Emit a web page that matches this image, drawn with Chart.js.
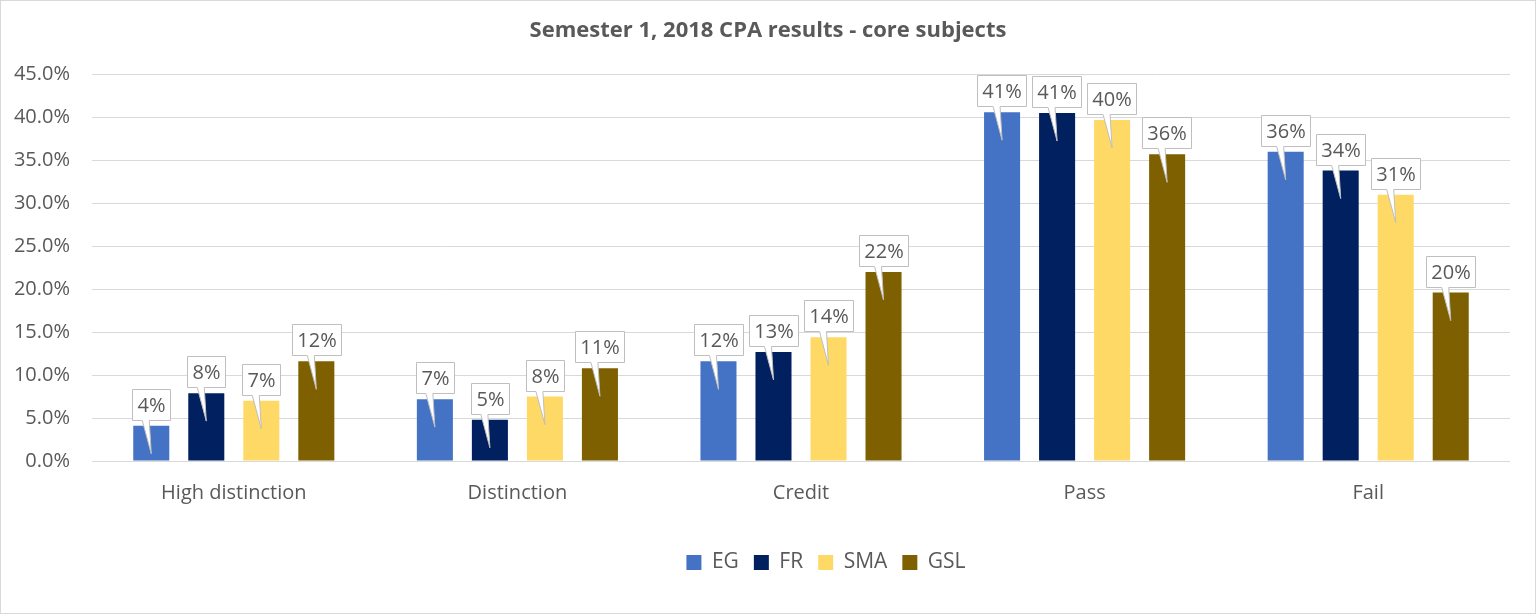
<!DOCTYPE html>
<html lang="en">
<head>
  <meta charset="UTF-8" />
  <title>Semester 1, 2018 CPA results - core subjects</title>
  <style>
    * { margin: 0; padding: 0; box-sizing: border-box; }
    body { background: #fff; }
    #wrap { width: 1536px; height: 614px; position: relative; }
  </style>
</head>
<body>
  <div id="wrap"><canvas id="cpaChart"></canvas></div>

  <script src="https://cdn.jsdelivr.net/npm/chart.js"></script>
  <script>
    const categories = ['High distinction', 'Distinction', 'Credit', 'Pass', 'Fail'];
    const seriesNames = ['EG', 'FR', 'SMA', 'GSL'];
    const egValues  = [4.1, 7.2, 11.6, 40.6, 36.0];
    const frValues  = [7.9, 4.8, 12.7, 40.5, 33.8];
    const smaValues = [7.0, 7.5, 14.4, 39.7, 31.0];
    const gslValues = [11.6, 10.8, 22.0, 35.7, 19.6];
    const yTicks = [0, 5, 10, 15, 20, 25, 30, 35, 40, 45];

    const colors = ['#4472C4', '#002060', '#FFD966', '#7F6000'];
    const textColor = '#595959';
    const fontFamily = "'Open Sans', 'DejaVu Sans', sans-serif";

    Chart.defaults.font.family = fontFamily;
    Chart.defaults.color = textColor;

    // white background + thin frame round the whole chart
    const frame = {
      id: 'frame',
      beforeDraw(chart) {
        const c = chart.ctx;
        c.save();
        c.fillStyle = '#fff';
        c.fillRect(0, 0, chart.width, chart.height);
        c.strokeStyle = '#d9d9d9';
        c.lineWidth = 1;
        c.strokeRect(0.5, 0.5, chart.width - 1, chart.height - 1);
        c.restore();
      }
    };

    // title sits centred on the canvas, legend a bit right of centre (like the Excel original)
    const nudge = {
      id: 'nudge',
      afterLayout(chart) {
        if (chart.titleBlock) { chart.titleBlock.left += 13; chart.titleBlock.right += 13; }
        if (chart.legend) { chart.legend.left += 71; chart.legend.right += 71; }
      }
    };

    // Excel style callout labels above each bar
    const callouts = {
      id: 'callouts',
      afterDatasetsDraw(chart) {
        const c = chart.ctx;
        c.save();
        c.font = '20px ' + fontFamily;
        c.textAlign = 'center';
        c.textBaseline = 'middle';
        chart.data.datasets.forEach((ds, i) => {
          const meta = chart.getDatasetMeta(i);
          meta.data.forEach((bar, j) => {
            const txt = Math.round(ds.data[j]) + '%';
            const w = c.measureText(txt).width + 10;
            const h = 31;
            const cx = bar.x;
            const left = Math.round(cx - w / 2) + 0.5;
            const right = left + Math.round(w);
            const bottom = Math.round(bar.y - 6) + 0.5;
            const top = bottom - h;
            c.beginPath();
            c.moveTo(left, top);
            c.lineTo(right, top);
            c.lineTo(right, bottom);
            c.lineTo(cx - 2, bottom);
            c.lineTo(cx, bar.y + 28);
            c.lineTo(cx - 9, bottom);
            c.lineTo(left, bottom);
            c.closePath();
            c.fillStyle = '#fff';
            c.fill();
            c.strokeStyle = '#bfbfbf';
            c.lineWidth = 1;
            c.stroke();
            c.fillStyle = textColor;
            c.fillText(txt, (left + right) / 2, top + h / 2 + 1);
          });
        });
        c.restore();
      }
    };

    const allValues = [egValues, frValues, smaValues, gslValues];

    new Chart(document.getElementById('cpaChart'), {
      type: 'bar',
      data: {
        labels: categories,
        datasets: seriesNames.map((name, i) => ({
          label: name,
          data: allValues[i],
          backgroundColor: colors[i],
          categoryPercentage: 0.776,
          barPercentage: 0.655
        }))
      },
      options: {
        responsive: true,
        maintainAspectRatio: false,
        animation: false,
        layout: { padding: { left: 0, right: 26, top: 0, bottom: 31 } },
        plugins: {
          title: {
            display: true,
            text: 'Semester 1, 2018 CPA results - core subjects',
            color: textColor,
            font: { size: 22, weight: 'bold' },
            padding: { top: 18, bottom: 30 }
          },
          legend: {
            position: 'bottom',
            labels: {
              boxWidth: 15,
              boxHeight: 15,
              padding: 15,
              color: textColor,
              font: { size: 21 }
            }
          },
          tooltip: { enabled: false }
        },
        scales: {
          x: {
            grid: { display: false },
            border: { display: false },
            ticks: { color: textColor, font: { size: 20 }, padding: 12 },
            afterFit(scale) { scale.height = 76; }
          },
          y: {
            min: 0,
            max: 45,
            afterBuildTicks(scale) { scale.ticks = yTicks.map(v => ({ value: v })); },
            grid: { color: '#d9d9d9', drawTicks: false },
            border: { display: false },
            ticks: {
              color: textColor,
              font: { size: 20 },
              padding: 22,
              callback: v => v.toFixed(1) + '%'
            },
            afterFit(scale) { scale.width = 92; }
          }
        }
      },
      plugins: [frame, nudge, callouts]
    });
  </script>
</body>
</html>
